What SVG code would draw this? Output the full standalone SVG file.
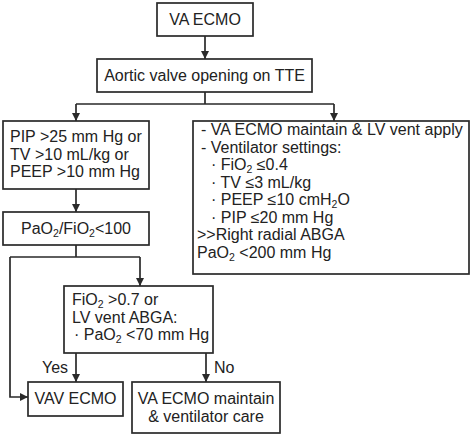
<svg xmlns="http://www.w3.org/2000/svg" width="474" height="434" viewBox="0 0 474 434">
<style>
.box{fill:#fff;stroke:#2a2a2a;stroke-width:1.7}
.ln{fill:none;stroke:#2a2a2a;stroke-width:1.7}
text{font-family:"Liberation Sans",Arial,sans-serif;font-size:16px;fill:#222}
.c{text-anchor:middle}
.s{font-size:10.5px}
</style>
<defs>
<marker id="ah" viewBox="0 0 10 10" refX="10" refY="5" markerWidth="8" markerHeight="8" markerUnits="userSpaceOnUse" orient="auto">
<path d="M0,0 L10,5 L0,10 z" fill="#2a2a2a"/>
</marker>
</defs>
<rect width="474" height="434" fill="#fff"/>
<g id="connectors">
<path class="ln" d="M205,36 V59" marker-end="url(#ah)"/>
<path class="ln" d="M205,92 V104 M76,104 H334"/>
<path class="ln" d="M76,104 V121" marker-end="url(#ah)"/>
<path class="ln" d="M334,104 V121" marker-end="url(#ah)"/>
<path class="ln" d="M76,189 V212" marker-end="url(#ah)"/>
<path class="ln" d="M76,245 V257 M10,257 H140"/>
<path class="ln" d="M140,257 V286" marker-end="url(#ah)"/>
<path class="ln" d="M10,257 V397 H28" marker-end="url(#ah)"/>
<path class="ln" d="M76,353 V382" marker-end="url(#ah)"/>
<path class="ln" d="M206,353 V382" marker-end="url(#ah)"/>
<text x="42" y="373">Yes</text>
<text x="214" y="373">No</text>
</g>
<g id="n1">
<rect class="box" x="157" y="3" width="96" height="33"/>
<text class="c" x="205" y="25">VA ECMO</text>
</g>
<g id="n2">
<rect class="box" x="97" y="59" width="215" height="33"/>
<text class="c" x="204.5" y="81">Aortic valve opening on TTE</text>
</g>
<g id="n3">
<rect class="box" x="3" y="121" width="146" height="68"/>
<text x="10" y="142">PIP &gt;25 mm Hg or</text>
<text x="10" y="159.5">TV &gt;10 mL/kg or</text>
<text x="10" y="177">PEEP &gt;10 mm Hg</text>
</g>
<g id="n4">
<rect class="box" x="193" y="121" width="276" height="153"/>
<text x="201" y="135">- VA ECMO maintain &amp; LV vent apply</text>
<text x="201" y="152.5">- Ventilator settings:</text>
<text x="211" y="170">· FiO<tspan class="s" dy="3">2</tspan><tspan dy="-3"> ≤0.4</tspan></text>
<text x="211" y="187.5">· TV ≤3 mL/kg</text>
<text x="211" y="205">· PEEP ≤10 cmH<tspan class="s" dy="3">2</tspan><tspan dy="-3">O</tspan></text>
<text x="211" y="222.5">· PIP ≤20 mm Hg</text>
<text x="197" y="240">&gt;&gt;Right radial ABGA</text>
<text x="197" y="257.5">PaO<tspan class="s" dy="3">2</tspan><tspan dy="-3"> &lt;200 mm Hg</tspan></text>
</g>
<g id="n5">
<rect class="box" x="3" y="212" width="146" height="33"/>
<text class="c" x="76" y="234">PaO<tspan class="s" dy="3">2</tspan><tspan dy="-3">/FiO</tspan><tspan class="s" dy="3">2</tspan><tspan dy="-3">&lt;100</tspan></text>
</g>
<g id="n6">
<rect class="box" x="64" y="286" width="149" height="67"/>
<text x="72" y="305">FiO<tspan class="s" dy="3">2</tspan><tspan dy="-3"> &gt;0.7 or</tspan></text>
<text x="72" y="322.5">LV vent ABGA:</text>
<text x="74" y="340">· PaO<tspan class="s" dy="3">2</tspan><tspan dy="-3"> &lt;70 mm Hg</tspan></text>
</g>
<g id="n7">
<rect class="box" x="28" y="382" width="95" height="34"/>
<text class="c" x="75.5" y="404">VAV ECMO</text>
</g>
<g id="n8">
<rect class="box" x="132" y="382" width="148" height="51"/>
<text class="c" x="206" y="404">VA ECMO maintain</text>
<text class="c" x="206" y="422">&amp; ventilator care</text>
</g>
</svg>
